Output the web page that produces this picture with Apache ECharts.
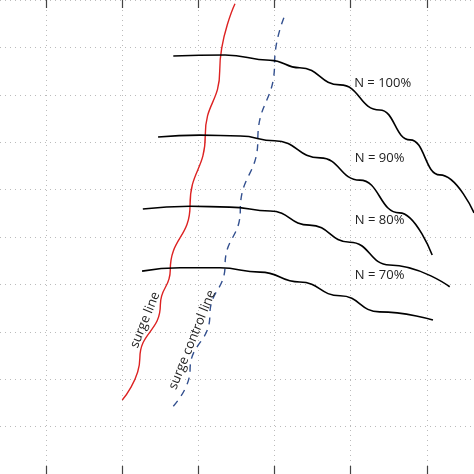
<!DOCTYPE html>
<html><head><meta charset="utf-8">
<script src="https://cdn.jsdelivr.net/npm/echarts@6/dist/echarts.min.js"></script>
<style>html,body{margin:0;background:#fff;overflow:hidden;width:474px;height:474px;position:relative}
#c{width:533px;height:474px;position:absolute;left:-30px;top:0}</style>
</head><body><div id="c"></div>
<script>
// curves in grid units (x: 0..7, y: 0..10)
const surgeLine = [[2.0,1.56],[2.23,2.43],[2.50,3.57],[2.63,4.30],[2.89,5.67],[3.09,7.15],[3.28,8.52],[3.48,9.92]];
const surgeControl = [[2.67,1.43],[2.89,2.19],[3.15,3.35],[3.35,4.41],[3.55,5.57],[3.78,7.05],[4.0,8.67],[4.14,9.70]];
const n100 = [[2.67,8.82],[3.35,8.84],[3.94,8.73],[4.33,8.57],[4.86,8.21],[5.38,7.68],[5.78,7.05],[6.17,6.31],[6.62,5.51]];
const n90 = [[2.47,7.11],[3.02,7.15],[3.55,7.13],[4.00,7.03],[4.60,6.67],[5.12,6.20],[5.64,5.51],[6.07,4.62]];
const n80 = [[2.27,5.59],[2.89,5.65],[3.41,5.63],[3.94,5.55],[4.46,5.25],[4.99,4.89],[5.51,4.41],[6.30,3.95]];
const n70 = [[2.26,4.28],[2.76,4.35],[3.28,4.35],[3.81,4.26],[4.33,4.05],[4.86,3.76],[5.38,3.42],[6.08,3.25]];
const speedLabels = ['N = 100%','N = 90%','N = 80%','N = 70%'];
const speedLabelPos = [[5.42,8.25],[5.38,6.67],[5.38,5.36],[5.38,4.20]];

const chart = echarts.init(document.getElementById('c'));
const xAx = (pos) => ({
  type:'value', position:pos, min:0, max:7, interval:1,
  axisLine:{show:false}, axisLabel:{show:false},
  axisTick:{show:true, inside:true, length:8, lineStyle:{color:'#444', width:1.2}},
  splitLine:{show:pos==='bottom', lineStyle:{color:'#bbb', type:[1,4]}}
});
function curve(data, color, type, width){
  return {type:'line', data:data, smooth:0.5, smoothMonotone:'x', symbol:'none', xAxisIndex:0,
    lineStyle:{color:color, width:width||1.6, type:type||'solid'}, silent:true};
}
function textMark(coord, text, rotate){
  return {coord:coord, value:text, symbolSize:0,
    label:{show:true, position:'inside', formatter:text, rotate:rotate||0,
      color:'#222', fontSize:13, fontFamily:'Open Sans'}};
}
const s100 = curve(n100,'#000');
s100.markPoint = {symbol:'circle', data: speedLabels.map((t,i)=>textMark(speedLabelPos[i], t))};
const sSurge = curve(surgeLine,'#d22','solid',1.4);
sSurge.smoothMonotone = 'y';
sSurge.markPoint = {symbol:'circle', data:[textMark([2.30,3.25],'surge line',68)]};
const sCtrl = curve(surgeControl,'#33508f',[7,6],1.4);
sCtrl.smoothMonotone = 'y';
sCtrl.markPoint = {symbol:'circle', data:[textMark([2.92,2.83],'surge control line',68)]};

chart.setOption({
  animation:false,
  grid:{left:0, right:0, top:0, bottom:0},
  xAxis:[xAx('bottom'), xAx('top')],
  yAxis:{type:'value', min:0, max:10, interval:1, axisLine:{show:false}, axisLabel:{show:false}, axisTick:{show:false},
    splitLine:{lineStyle:{color:'#bbb', type:[1,4]}}},
  series:[sSurge, sCtrl, s100, curve(n90,'#000'), curve(n80,'#000'), curve(n70,'#000')]
});
</script></body></html>
